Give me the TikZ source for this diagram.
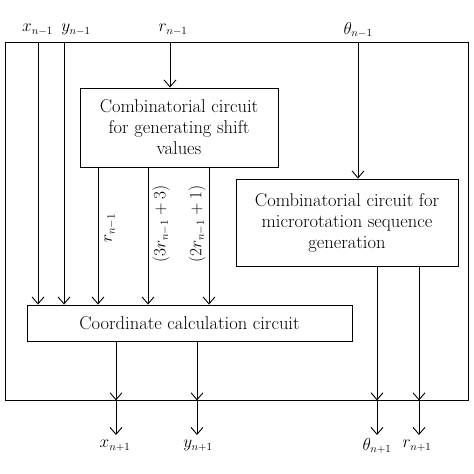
\documentclass[tikz,border=0pt]{standalone}
\usetikzlibrary{arrows.meta}
\begin{document}
\begin{tikzpicture}[x=1pt,y=-1pt,
  box/.style={draw,line width=0.9pt,inner sep=0pt,align=center,font=\fontsize{18.5}{21}\selectfont},
  arr/.style={line width=0.9pt,-{Straight Barb[length=7pt,width=12pt,line width=0.9pt]}},
  lbl/.style={inner sep=0pt,font=\fontsize{16}{19}\selectfont}]
\useasboundingbox (0,0) rectangle (474,474);
\node[box,minimum width=198pt,minimum height=79pt] (shift) at (179,127.5) {Combinatorial circuit\\for generating shift\\values};
\node[box,minimum width=222pt,minimum height=87pt] (micro) at (347,222.5) {Combinatorial circuit for\\microrotation sequence\\generation};
\node[box,minimum width=325pt,minimum height=36pt] (coord) at (189.5,323) {Coordinate calculation circuit};
\node[draw,line width=0.9pt,minimum width=463pt,minimum height=358pt,inner sep=0pt] (outer) at (236.5,221) {};
% column positions
\coordinate (cx) at (38,0);
\coordinate (cy) at (64,0);
\coordinate (cr) at (170,0);
\coordinate (ct) at (358,0);
\coordinate (s1) at (98,0);
\coordinate (s2) at (148,0);
\coordinate (s3) at (209,0);
\coordinate (ox) at (116,0);
\coordinate (oy) at (197,0);
\coordinate (ot) at (377,0);
\coordinate (orr) at (419,0);
\coordinate (bot) at (0,435);
% top labels
\node[lbl] (xl) at (37.5,30) {$x_{n-1}$};
\node[lbl] (yl) at (76,30) {$y_{n-1}$};
\node[lbl] (rl) at (173,30) {$r_{n-1}$};
\node[lbl] (tl) at (358,30) {$\theta_{n-1}$};
% inputs
\draw[arr] (outer.north -| cx) -- (coord.north -| cx);
\draw[arr] (outer.north -| cy) -- (coord.north -| cy);
\draw[arr] (outer.north -| cr) -- (shift.north -| cr);
\draw[arr] (outer.north -| ct) -- (micro.north -| ct);
% shift values
\draw[arr] (shift.south -| s1) -- (coord.north -| s1);
\draw[arr] (shift.south -| s2) -- (coord.north -| s2);
\draw[arr] (shift.south -| s3) -- (coord.north -| s3);
\node[lbl,rotate=90] (l1) at (110,228) {$r_{n-1}$};
\node[lbl,rotate=90] (l2) at (161,224) {$(3r_{n-1}+3)$};
\node[lbl,rotate=90] (l3) at (197,224) {$(2r_{n-1}+1)$};
% outputs
\draw[arr] (coord.south -| ox) -- (outer.south -| ox);
\draw[arr] (coord.south -| oy) -- (outer.south -| oy);
\draw[arr] (micro.south -| ot) -- (outer.south -| ot);
\draw[arr] (micro.south -| orr) -- (outer.south -| orr);
\draw[arr] (outer.south -| ox) -- (bot -| ox);
\draw[arr] (outer.south -| oy) -- (bot -| oy);
\draw[arr] (outer.south -| ot) -- (bot -| ot);
\draw[arr] (outer.south -| orr) -- (bot -| orr);
% bottom labels
\node[lbl] (xo) at (115,446) {$x_{n+1}$};
\node[lbl] (yo) at (198,446) {$y_{n+1}$};
\node[lbl] (to) at (377,446) {$\theta_{n+1}$};
\node[lbl] (ro) at (417,446) {$r_{n+1}$};
\end{tikzpicture}
\end{document}
